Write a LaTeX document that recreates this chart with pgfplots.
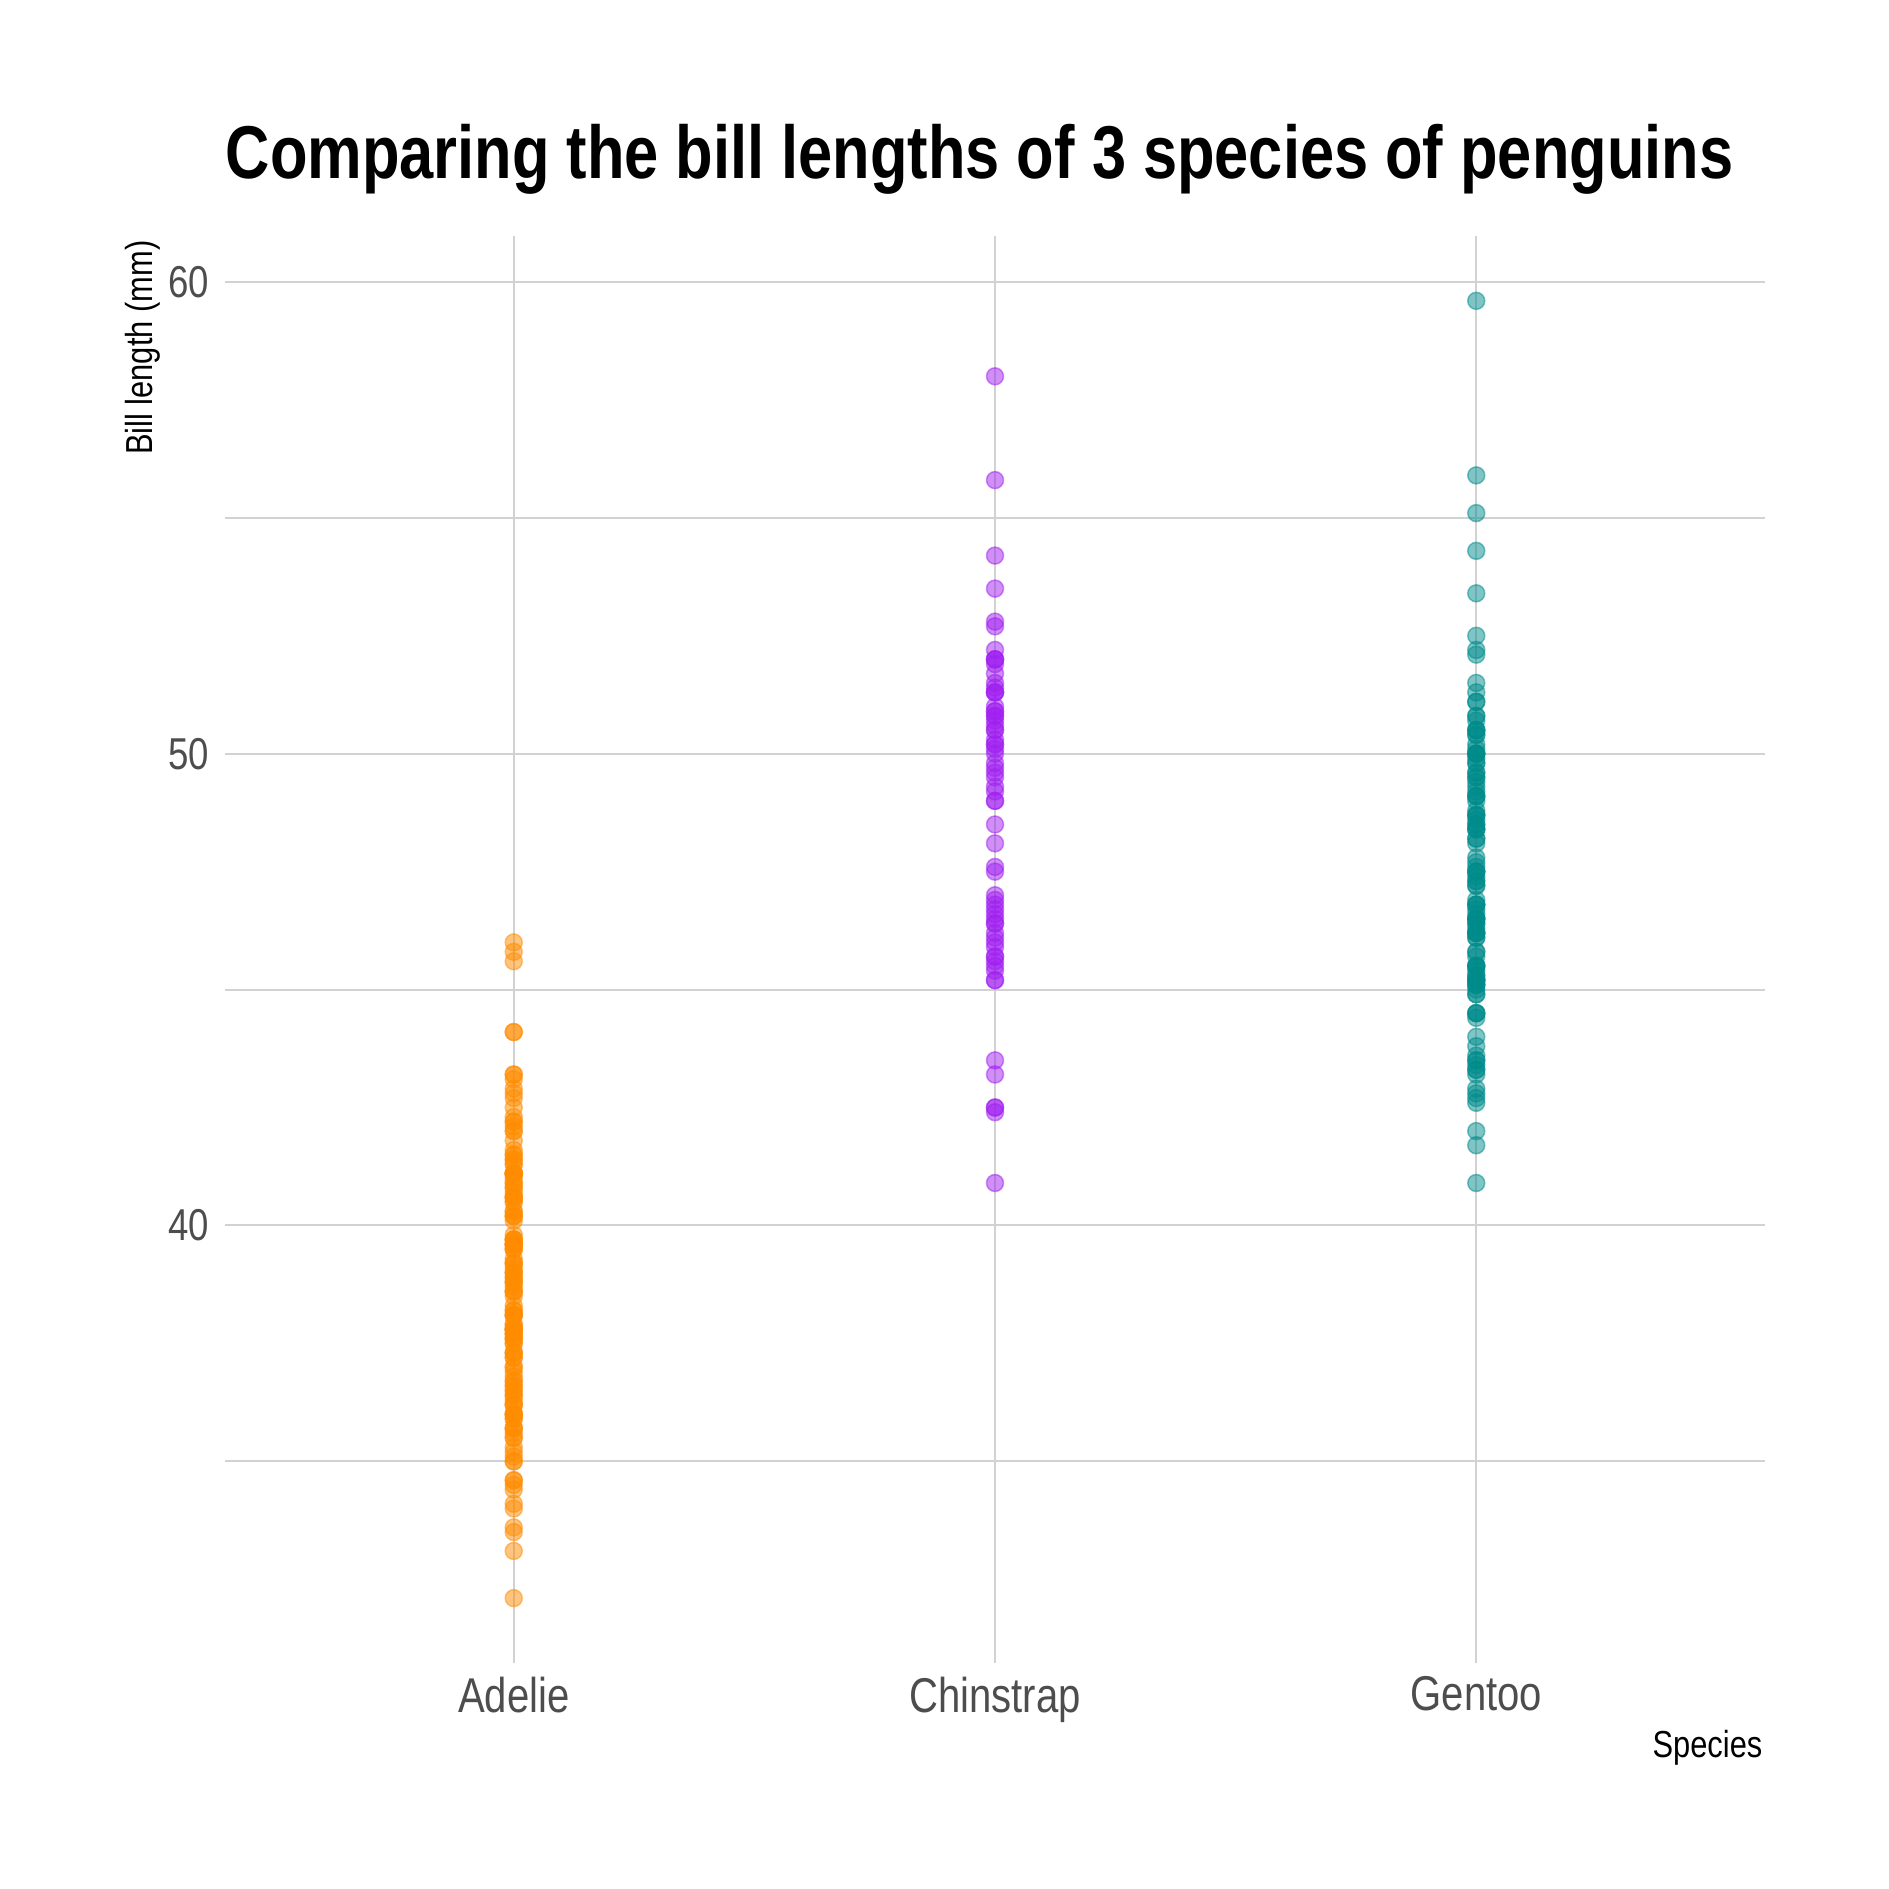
\documentclass[border=0pt]{standalone}
\usepackage{pgfplots}
\pgfplotsset{compat=1.18}
\usepackage{fontspec}
\setmainfont{Liberation Sans}[FakeStretch=0.82]
\definecolor{cAde}{HTML}{FF8C00}
\definecolor{cChi}{HTML}{A020F0}
\definecolor{cGen}{HTML}{008B8B}
\definecolor{gridc}{HTML}{D2D2D2}
\definecolor{tickc}{HTML}{4D4D4D}
\begin{document}
\begin{tikzpicture}
\begin{axis}[
  scale only axis, width=154mm, height=142.7mm,
  xmin=0.4, xmax=3.6, ymin=30.725, ymax=60.975,
  axis line style={draw=none}, major tick style={draw=none}, minor tick style={draw=none},
  xtick={1,2,3}, xticklabels={Adelie,Chinstrap,Gentoo},
  ytick={40,50,60}, yticklabels={40,50,60}, minor ytick={35,45,55},
  /pgf/number format/assume math mode=true,
  grid=both,
  major grid style={color=gridc, line width=0.2mm},
  minor grid style={color=gridc, line width=0.2mm},
  xticklabel style={font=\fontsize{13.9}{16}\selectfont, color=tickc, anchor=north, inner sep=0pt, yshift=-1.3mm},
  yticklabel style={font=\fontsize{12.7}{15}\selectfont, color=tickc, anchor=east, inner sep=0pt, xshift=-1.5mm},
  clip=false,
  every axis plot/.append style={only marks, mark=*, mark size=0.85mm, line width=0.15mm, fill opacity=0.5, draw opacity=0.5},
]
\addplot[color=cAde, mark options={fill=cAde}] coordinates {
(1,39.1) (1,39.5) (1,40.3) (1,36.7) (1,39.3) (1,38.9) (1,39.2) (1,34.1) (1,42.0) (1,37.8)
(1,37.8) (1,41.1) (1,38.6) (1,34.6) (1,36.6) (1,38.7) (1,42.5) (1,34.4) (1,46.0) (1,37.8)
(1,37.7) (1,35.9) (1,38.2) (1,38.8) (1,35.3) (1,40.6) (1,40.5) (1,37.9) (1,40.5) (1,39.5)
(1,37.2) (1,39.5) (1,40.9) (1,36.4) (1,39.2) (1,38.8) (1,42.2) (1,37.6) (1,39.8) (1,36.5)
(1,40.8) (1,36.0) (1,44.1) (1,37.0) (1,39.6) (1,41.1) (1,37.5) (1,36.0) (1,42.3) (1,39.6)
(1,40.1) (1,35.0) (1,42.0) (1,34.5) (1,41.4) (1,39.0) (1,40.6) (1,36.5) (1,37.6) (1,35.7)
(1,41.3) (1,37.6) (1,41.1) (1,36.4) (1,41.6) (1,35.5) (1,41.1) (1,35.9) (1,41.8) (1,33.5)
(1,39.7) (1,39.6) (1,45.8) (1,35.5) (1,42.8) (1,40.9) (1,37.2) (1,36.2) (1,42.1) (1,34.6)
(1,42.9) (1,36.7) (1,35.1) (1,37.3) (1,41.3) (1,36.3) (1,36.9) (1,38.3) (1,38.9) (1,35.7)
(1,41.1) (1,34.0) (1,39.6) (1,36.2) (1,40.8) (1,38.1) (1,40.3) (1,33.1) (1,43.2) (1,35.0)
(1,41.0) (1,37.7) (1,37.8) (1,37.9) (1,39.7) (1,38.6) (1,38.2) (1,38.1) (1,43.2) (1,38.1)
(1,45.6) (1,39.7) (1,42.2) (1,39.6) (1,42.7) (1,38.6) (1,37.3) (1,35.7) (1,41.1) (1,36.2)
(1,37.7) (1,40.2) (1,41.4) (1,35.2) (1,40.6) (1,38.8) (1,41.5) (1,39.0) (1,44.1) (1,38.5)
(1,43.1) (1,36.8) (1,37.5) (1,38.1) (1,41.1) (1,35.6) (1,40.2) (1,37.0) (1,39.7) (1,40.2)
(1,40.6) (1,32.1) (1,40.7) (1,37.3) (1,39.0) (1,39.2) (1,36.6) (1,36.0) (1,37.8) (1,36.0)
(1,41.5) (1,33.6)
};
\addplot[color=cChi, mark options={fill=cChi}] coordinates {
(2,46.5) (2,50.0) (2,51.3) (2,45.4) (2,52.7) (2,45.2) (2,46.1) (2,51.3) (2,46.0) (2,51.3)
(2,46.6) (2,51.7) (2,47.0) (2,52.0) (2,45.9) (2,50.5) (2,50.3) (2,58.0) (2,46.4) (2,49.2)
(2,42.4) (2,48.5) (2,43.2) (2,50.6) (2,46.7) (2,52.0) (2,50.5) (2,49.5) (2,46.4) (2,52.8)
(2,40.9) (2,54.2) (2,42.5) (2,51.0) (2,49.7) (2,47.5) (2,47.6) (2,52.0) (2,46.9) (2,53.5)
(2,49.0) (2,46.2) (2,50.9) (2,45.5) (2,50.9) (2,50.8) (2,50.1) (2,49.0) (2,51.5) (2,49.8)
(2,48.1) (2,51.4) (2,45.7) (2,50.7) (2,42.5) (2,52.2) (2,45.2) (2,49.3) (2,50.2) (2,45.6)
(2,51.9) (2,46.8) (2,45.7) (2,55.8) (2,43.5) (2,49.6) (2,50.8) (2,50.2)
};
\addplot[color=cGen, mark options={fill=cGen}] coordinates {
(3,46.1) (3,50.0) (3,48.7) (3,50.0) (3,47.6) (3,46.5) (3,45.4) (3,46.7) (3,43.3) (3,46.8)
(3,40.9) (3,49.0) (3,45.5) (3,48.4) (3,45.8) (3,49.3) (3,42.0) (3,49.2) (3,46.2) (3,48.7)
(3,50.2) (3,45.1) (3,46.5) (3,46.3) (3,42.9) (3,46.1) (3,44.5) (3,47.8) (3,48.2) (3,50.0)
(3,47.3) (3,42.8) (3,45.1) (3,59.6) (3,49.1) (3,48.4) (3,42.6) (3,44.4) (3,44.0) (3,48.7)
(3,42.7) (3,49.6) (3,45.3) (3,49.6) (3,50.5) (3,43.6) (3,45.5) (3,50.5) (3,44.9) (3,45.2)
(3,46.6) (3,48.5) (3,45.1) (3,50.1) (3,46.5) (3,45.0) (3,43.8) (3,45.5) (3,43.2) (3,50.4)
(3,45.3) (3,46.2) (3,45.7) (3,54.3) (3,45.8) (3,49.8) (3,46.2) (3,49.5) (3,43.5) (3,50.7)
(3,47.7) (3,46.4) (3,48.2) (3,46.5) (3,46.4) (3,48.6) (3,47.5) (3,51.1) (3,45.2) (3,45.2)
(3,49.1) (3,52.5) (3,47.4) (3,50.0) (3,44.9) (3,50.8) (3,43.4) (3,51.3) (3,47.5) (3,52.1)
(3,47.5) (3,52.2) (3,45.5) (3,49.5) (3,44.5) (3,50.8) (3,49.4) (3,46.9) (3,48.4) (3,51.1)
(3,48.5) (3,55.9) (3,47.2) (3,49.1) (3,47.3) (3,46.8) (3,41.7) (3,53.4) (3,43.3) (3,48.1)
(3,50.5) (3,49.8) (3,43.5) (3,51.5) (3,46.2) (3,55.1) (3,44.5) (3,48.8) (3,47.2) (3,46.8)
(3,50.4) (3,45.2) (3,49.9)
};
\end{axis}
\node[anchor=base west, inner sep=0pt, font=\bfseries\fontsize{21.3}{25}\selectfont] at (0mm,148.4mm) {Comparing the bill lengths of 3 species of penguins};
\node[rotate=90, anchor=base east, inner sep=0pt, font=\fontsize{10.7}{13}\selectfont] at (-7.3mm,142.3mm) {Bill length (mm)};
\node[anchor=base east, inner sep=0pt, font=\fontsize{10.7}{13}\selectfont] at (153.8mm,-9.4mm) {Species};
\path (-22.5mm,-22.6mm) rectangle (166.4mm,166.3mm);
\end{tikzpicture}
\end{document}
